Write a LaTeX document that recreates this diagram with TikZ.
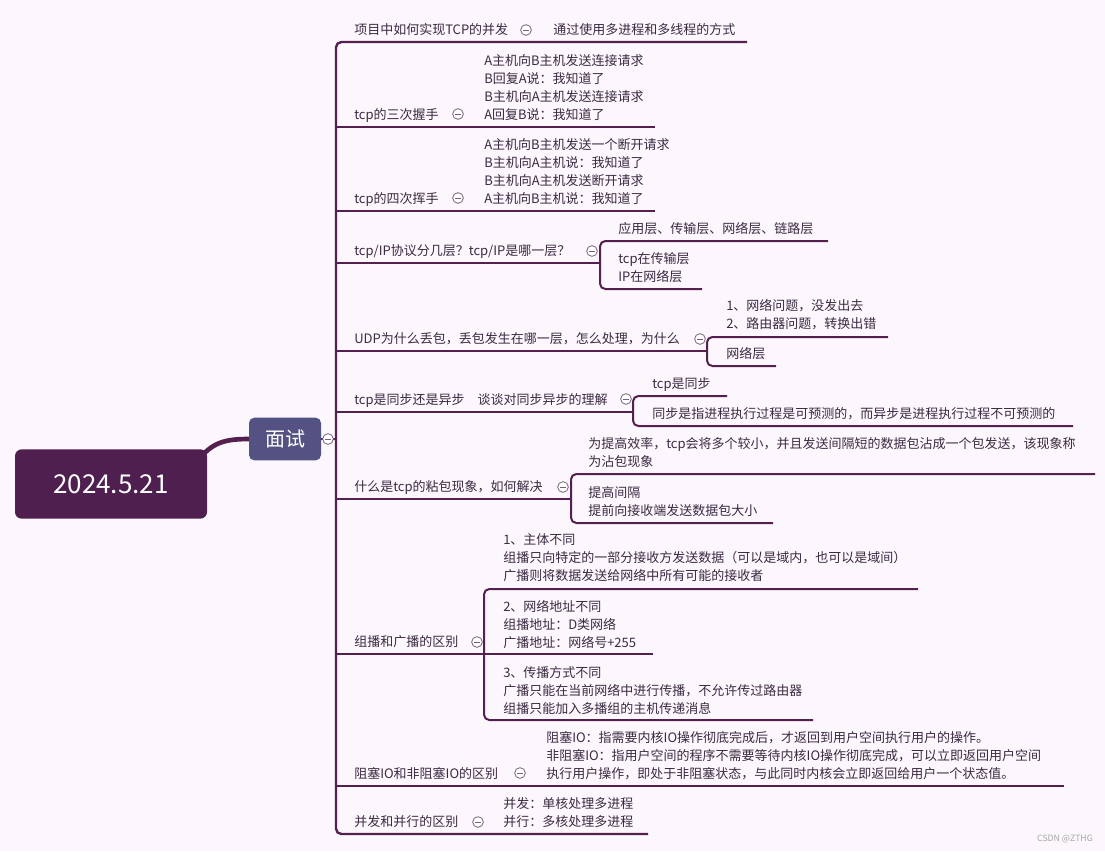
\documentclass[tikz,border=0pt]{standalone}
\usepackage{fontspec}
\setmainfont{Noto Sans CJK SC}
\begin{document}
\begin{tikzpicture}[x=0.75pt,y=-0.75pt,
  txt/.style={anchor=north west,inner sep=0pt,align=left,text=tc,font=\fontsize{9.75}{13.5}\selectfont},
  trunk/.style={draw=lc,line width=1.8pt,rounded corners=4pt},
  br/.style={draw=lc,line width=1.5pt,rounded corners=4pt},
  fold/.style={circle,draw=fc,line width=0.6pt,fill=white,minimum size=8pt,inner sep=0pt,
     path picture={\draw[fc,line width=0.6pt] ([xshift=-2pt]path picture bounding box.center) -- ([xshift=2pt]path picture bounding box.center);}}]
\definecolor{bg}{HTML}{FCF7FC}
\definecolor{lc}{HTML}{55204F}
\definecolor{tc}{HTML}{3A2A42}
\definecolor{fc}{HTML}{75607A}
\definecolor{rootc}{HTML}{4E1F4F}
\definecolor{subc}{HTML}{535283}
\fill[bg] (0,0) rectangle (1105,851);
\useasboundingbox (0,0) rectangle (1105,851);
% root
\draw[lc,line width=3.5pt] (200,458) .. controls (214,441) and (228,439) .. (250,439);
\node[fill=rootc,rounded corners=5pt,minimum width=144pt,minimum height=52pt,text=white,font=\fontsize{19.5}{22}\selectfont] (root) at (111,484) {2024.5.21};
\node[fill=subc,rounded corners=4pt,minimum width=54pt,minimum height=32pt,text=white,font=\fontsize{15}{18}\selectfont] (ms) at (285,439) {面试};
\draw[lc,line width=1.5pt] (ms.east) -- (336,439);
\node[fold] (f0) at (328,439) {};
% trunk
\draw[trunk] (747,42) -- (336,42) -- (336,834) -- (648,834);
% B1
\node[txt] (b1) at (354,23) {项目中如何实现TCP的并发};
\node[fold] (f1) at (526,30) {};
\node[txt] (c1) at (553,23) {通过使用多进程和多线程的方式};
% B2
\draw[br] (336,127) -- (655,127);
\node[txt] (b2) at (354,108) {tcp的三次握手};
\node[fold] (f2) at (458,114) {};
\node[txt] (c2) at (484,54) {A主机向B主机发送连接请求\\B回复A说：我知道了\\B主机向A主机发送连接请求\\A回复B说：我知道了};
% B3
\draw[br] (336,211) -- (655,211);
\node[txt] (b3) at (354,192) {tcp的四次挥手};
\node[fold] (f3) at (458,198) {};
\node[txt] (c3) at (484,138) {A主机向B主机发送一个断开请求\\B主机向A主机说：我知道了\\B主机向A主机发送断开请求\\A主机向B主机说：我知道了};
% B4
\draw[br] (336,263) -- (600,263);
\draw[br] (828,241) -- (600,241) -- (600,289) -- (702,289);
\node[txt] (b4) at (354,244) {tcp/IP协议分几层？tcp/IP是哪一层？};
\node[fold] (f4) at (592,251) {};
\node[txt] (c41) at (618,222) {应用层、传输层、网络层、链路层};
\node[txt] (c42) at (618,252) {tcp在传输层\\IP在网络层};
% B5
\draw[br] (336,351) -- (707,351);
\draw[br] (888,337) -- (707,337) -- (707,366) -- (776,366);
\node[txt] (b5) at (354,332) {UDP为什么丢包，丢包发生在哪一层，怎么处理，为什么};
\node[fold] (f5) at (700,339) {};
\node[txt] (c51) at (726,299) {1、网络问题，没发出去\\2、路由器问题，转换出错};
\node[txt] (c52) at (726,347) {网络层};
% B6
\draw[br] (336,412) -- (633,412);
\draw[br] (727,396) -- (633,396) -- (633,426) -- (1073,426);
\node[txt] (b6) at (354,393) {tcp是同步还是异步\hspace{1em}谈谈对同步异步的理解};
\node[fold] (f6) at (626,399) {};
\node[txt] (c61) at (652,377) {tcp是同步};
\node[txt] (c62) at (652,407) {同步是指进程执行过程是可预测的，而异步是进程执行过程不可预测的};
% B7
\draw[br] (336,499) -- (571,499);
\draw[br] (1095,474) -- (571,474) -- (571,523) -- (773,523);
\node[txt] (b7) at (354,480) {什么是tcp的粘包现象，如何解决};
\node[fold] (f7) at (563,487) {};
\node[txt] (c71) at (588,437) {为提高效率，tcp会将多个较小，并且发送间隔短的数据包沾成一个包发送，该现象称\\为沾包现象};
\node[txt] (c72) at (588,486) {提高间隔\\提前向接收端发送数据包大小};
% B8
\draw[br] (336,654) -- (653,654);
\draw[br] (918,589) -- (484,589) -- (484,720) -- (813,720);
\node[txt] (b8) at (354,635) {组播和广播的区别};
\node[fold] (f8) at (477,642) {};
\node[txt] (c81) at (503,533) {1、主体不同\\组播只向特定的一部分接收方发送数据（可以是域内，也可以是域间）\\广播则将数据发送给网络中所有可能的接收者};
\node[txt] (c82) at (503,600) {2、网络地址不同\\组播地址：D类网络\\广播地址：网络号+255};
\node[txt] (c83) at (503,666) {3、传播方式不同\\广播只能在当前网络中进行传播，不允许传过路由器\\组播只能加入多播组的主机传递消息};
% B9
\draw[br] (336,786) -- (1064,786);
\node[txt] (b9) at (354,767) {阻塞IO和非阻塞IO的区别};
\node[fold] (f9) at (520,773) {};
\node[txt] (c9) at (546,731) {阻塞IO：指需要内核IO操作彻底完成后，才返回到用户空间执行用户的操作。\\非阻塞IO：指用户空间的程序不需要等待内核IO操作彻底完成，可以立即返回用户空间\\执行用户操作，即处于非阻塞状态，与此同时内核会立即返回给用户一个状态值。};
% B10
\node[txt] (b10) at (354,815) {并发和并行的区别};
\node[fold] (f10) at (478,822) {};
\node[txt] (c10) at (503,797) {并发：单核处理多进程\\并行：多核处理多进程};
\node[anchor=base east,inner sep=0pt,text=gray!70,font=\fontsize{6.5}{8}\selectfont] (wm) at (1093,841) {CSDN @ZTHG};
\end{tikzpicture}
\end{document}
